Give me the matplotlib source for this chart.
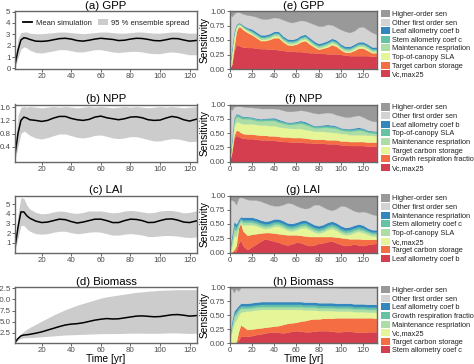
import numpy as np
import matplotlib
matplotlib.use("Agg")
import matplotlib.pyplot as plt
from matplotlib.patches import Patch
from matplotlib.lines import Line2D

# ---------------- data ----------------
years = [0, 2, 4, 6, 8, 10, 12, 16, 20, 24, 28, 32, 36, 40, 44, 48, 52, 56, 60, 64,
         68, 72, 76, 80, 84, 88, 92, 96, 100, 104, 108, 112, 116, 120, 124, 128, 132]

# ensemble output (left column): mean, lower and upper bound of 95% spread
gpp_mean = [0, 0.3, 1.6, 2.5, 2.7, 2.65, 2.55, 2.4, 2.38, 2.42, 2.52, 2.62, 2.65, 2.58, 2.45, 2.4, 2.48, 2.58, 2.65, 2.6,
            2.55, 2.45, 2.48, 2.58, 2.65, 2.63, 2.55, 2.45, 2.43, 2.52, 2.63, 2.62, 2.5, 2.4, 2.45, 2.55, 2.58]
gpp_low = [0, 0.05, 0.9, 1.7, 1.9, 1.8, 1.6, 1.4, 1.35, 1.45, 1.55, 1.65, 1.65, 1.55, 1.45, 1.45, 1.55, 1.65, 1.65, 1.55,
           1.45, 1.4, 1.45, 1.5, 1.5, 1.45, 1.35, 1.3, 1.3, 1.4, 1.45, 1.4, 1.3, 1.2, 1.2, 1.25, 1.25]
gpp_high = [0, 0.8, 2.6, 3.15, 3.2, 3.2, 3.1, 3.05, 3.05, 3.1, 3.15, 3.2, 3.2, 3.15, 3.1, 3.05, 3.1, 3.15, 3.2, 3.2,
            3.15, 3.1, 3.1, 3.15, 3.2, 3.2, 3.15, 3.1, 3.1, 3.15, 3.2, 3.2, 3.15, 3.1, 3.1, 3.15, 3.15]

npp_mean = [0, 0.15, 0.8, 1.2, 1.3, 1.27, 1.22, 1.2, 1.17, 1.2, 1.27, 1.32, 1.32, 1.26, 1.22, 1.2, 1.23, 1.3, 1.33, 1.28,
            1.25, 1.22, 1.25, 1.3, 1.31, 1.28, 1.22, 1.2, 1.21, 1.27, 1.32, 1.29, 1.22, 1.18, 1.23, 1.27, 1.27]
npp_low = [0, 0.02, 0.4, 0.8, 0.88, 0.82, 0.75, 0.67, 0.64, 0.68, 0.74, 0.79, 0.79, 0.74, 0.69, 0.67, 0.7, 0.75, 0.76, 0.72,
           0.67, 0.65, 0.67, 0.71, 0.71, 0.67, 0.62, 0.58, 0.58, 0.62, 0.65, 0.64, 0.6, 0.56, 0.57, 0.6, 0.6]
npp_high = [0, 0.4, 1.35, 1.6, 1.62, 1.6, 1.62, 1.6, 1.58, 1.6, 1.62, 1.6, 1.62, 1.6, 1.58, 1.6, 1.62, 1.6, 1.62, 1.6,
            1.58, 1.6, 1.62, 1.6, 1.62, 1.6, 1.58, 1.6, 1.62, 1.6, 1.62, 1.6, 1.58, 1.6, 1.62, 1.6, 1.6]

lai_mean = [0.2, 0.5, 2.6, 4.2, 4.2, 3.8, 3.55, 3.25, 3.1, 3.15, 3.3, 3.45, 3.4, 3.2, 3.05, 3.15, 3.3, 3.45, 3.45, 3.3,
            3.1, 3.1, 3.3, 3.45, 3.42, 3.3, 3.1, 3.12, 3.3, 3.45, 3.48, 3.35, 3.15, 3.1, 3.25, 3.38, 3.38]
lai_low = [0.15, 0.3, 1.5, 2.8, 2.8, 2.45, 2.2, 1.95, 1.9, 1.95, 2.1, 2.2, 2.2, 2.05, 1.95, 2.0, 2.1, 2.15, 2.1, 1.95,
           1.8, 1.8, 1.9, 1.95, 1.9, 1.8, 1.65, 1.65, 1.72, 1.76, 1.75, 1.7, 1.6, 1.55, 1.6, 1.65, 1.65]
lai_high = [0.25, 1.0, 4.0, 5.7, 5.6, 4.9, 4.5, 4.15, 4.0, 4.05, 4.2, 4.3, 4.25, 4.1, 4.05, 4.15, 4.3, 4.3, 4.3, 4.2,
            4.1, 4.15, 4.3, 4.35, 4.3, 4.2, 4.1, 4.15, 4.3, 4.35, 4.35, 4.25, 4.1, 4.15, 4.3, 4.3, 4.3]

bio_mean = [0, 0.3, 1.2, 1.8, 2.0, 2.05, 2.15, 2.4, 2.7, 3.1, 3.5, 3.9, 4.25, 4.45, 4.55, 4.75, 5.05, 5.35, 5.55, 5.7,
            5.6, 5.65, 5.85, 6.05, 6.25, 6.3, 6.2, 6.1, 6.15, 6.35, 6.55, 6.6, 6.45, 6.25, 6.35, 6.55, 6.6]
bio_low = [0, 0.2, 0.9, 1.25, 1.35, 1.4, 1.42, 1.5, 1.6, 1.7, 1.8, 1.9, 2.0, 2.05, 2.1, 2.15, 2.2, 2.25, 2.3, 2.32,
           2.32, 2.33, 2.36, 2.4, 2.42, 2.4, 2.38, 2.38, 2.4, 2.45, 2.48, 2.45, 2.4, 2.35, 2.38, 2.43, 2.43]
bio_high = [0, 0.4, 1.5, 2.3, 2.8, 3.3, 3.7, 4.4, 5.1, 5.8, 6.5, 7.1, 7.7, 8.2, 8.7, 9.1, 9.5, 9.9, 10.3, 10.6,
            10.8, 11.0, 11.2, 11.4, 11.6, 11.7, 11.85, 11.95, 12.05, 12.1, 12.15, 12.2, 12.2, 12.2, 12.2, 12.2, 12.2]

# sensitivity indices (right column), bottom layer first; higher-order = 1 - sum of first-order
gpp_labels = ["Vc,max25", "Target carbon storage", "Top-of-canopy SLA", "Maintenance respriation",
              "Stem allometry coef c", "Leaf allometry coef b", "Other first order sen"]
gpp_s1 = [0, 0.08, 0.3, 0.42, 0.41, 0.39, 0.38, 0.37, 0.37, 0.36, 0.35, 0.35, 0.34, 0.34, 0.33, 0.32, 0.31, 0.31, 0.30, 0.30,
          0.29, 0.28, 0.28, 0.27, 0.27, 0.26, 0.26, 0.26, 0.25, 0.24, 0.23, 0.23, 0.23, 0.23, 0.23, 0.22, 0.22]
gpp_s2 = [0, 0, 0.08, 0.22, 0.32, 0.33, 0.3, 0.26, 0.22, 0.18, 0.14, 0.14, 0.17, 0.2, 0.21, 0.15, 0.11, 0.1, 0.13, 0.17,
          0.2, 0.15, 0.1, 0.07, 0.09, 0.12, 0.16, 0.13, 0.08, 0.05, 0.06, 0.09, 0.13, 0.13, 0.09, 0.06, 0.06]
gpp_s3 = [0.02, 0.15, 0.16, 0.07, 0.03, 0.03, 0.03, 0.03, 0.02, 0.02, 0.02, 0.02, 0.02, 0.03, 0.03, 0.02, 0.02, 0.02, 0.02, 0.03,
          0.03, 0.03, 0.02, 0.02, 0.02, 0.03, 0.03, 0.03, 0.02, 0.02, 0.02, 0.03, 0.03, 0.03, 0.03, 0.02, 0.02]
gpp_s4 = [0.02, 0.1, 0.08, 0.04, 0.02, 0.02, 0.02, 0.02, 0.03, 0.03, 0.03, 0.03, 0.03, 0.03, 0.03, 0.03, 0.03, 0.03, 0.03, 0.03,
          0.03, 0.03, 0.03, 0.03, 0.03, 0.03, 0.03, 0.03, 0.03, 0.03, 0.03, 0.03, 0.03, 0.03, 0.03, 0.03, 0.03]
gpp_s5 = [0, 0.02, 0.02, 0.01, 0.01, 0.01, 0.01, 0.015, 0.02, 0.02, 0.02, 0.02, 0.02, 0.02, 0.02, 0.02, 0.02, 0.02, 0.02, 0.02,
          0.02, 0.02, 0.02, 0.02, 0.02, 0.02, 0.02, 0.02, 0.02, 0.02, 0.02, 0.02, 0.02, 0.02, 0.02, 0.02, 0.02]
gpp_s6 = [0, 0.01, 0.01, 0.01, 0.01, 0.01, 0.015, 0.02, 0.03, 0.03, 0.03, 0.03, 0.03, 0.03, 0.03, 0.03, 0.03, 0.03, 0.03, 0.03,
          0.03, 0.03, 0.03, 0.03, 0.03, 0.03, 0.03, 0.03, 0.03, 0.03, 0.03, 0.03, 0.03, 0.03, 0.03, 0.03, 0.03]
gpp_other = [0.93, 0.54, 0.30, 0.21, 0.18, 0.18, 0.195, 0.215, 0.23, 0.26, 0.28, 0.27, 0.26, 0.24, 0.23, 0.28, 0.30, 0.29, 0.29, 0.26,
             0.23, 0.26, 0.29, 0.30, 0.28, 0.28, 0.23, 0.22, 0.25, 0.26, 0.24, 0.23, 0.25, 0.26, 0.25, 0.25, 0.22]

npp_labels = ["Vc,max25", "Growth respiration fraction", "Target carbon storage", "Maintenance respriation",
              "Top-of-canopy SLA", "Leaf allometry coef b", "Other first order sen"]
npp_s1 = [0, 0.15, 0.4, 0.46, 0.44, 0.42, 0.41, 0.40, 0.40, 0.39, 0.38, 0.38, 0.37, 0.37, 0.36, 0.35, 0.35, 0.34, 0.34, 0.34,
          0.33, 0.33, 0.32, 0.32, 0.32, 0.31, 0.31, 0.31, 0.29, 0.29, 0.28, 0.28, 0.28, 0.28, 0.27, 0.27, 0.27]
npp_s2 = [0, 0.02, 0.06, 0.09, 0.10, 0.09, 0.08, 0.08, 0.08, 0.08, 0.08, 0.08, 0.08, 0.08, 0.08, 0.08, 0.08, 0.08, 0.08, 0.08,
          0.08, 0.07, 0.07, 0.07, 0.07, 0.07, 0.07, 0.07, 0.07, 0.07, 0.07, 0.07, 0.07, 0.07, 0.07, 0.07, 0.07]
npp_s3 = [0, 0.1, 0.15, 0.15, 0.15, 0.16, 0.17, 0.18, 0.18, 0.18, 0.18, 0.18, 0.18, 0.18, 0.17, 0.17, 0.16, 0.16, 0.16, 0.16,
          0.15, 0.15, 0.14, 0.14, 0.14, 0.14, 0.13, 0.13, 0.13, 0.13, 0.12, 0.12, 0.12, 0.12, 0.12, 0.12, 0.11]
npp_s4 = [0, 0.08, 0.1, 0.09, 0.09, 0.09, 0.09, 0.09, 0.08, 0.07, 0.07, 0.08, 0.09, 0.09, 0.08, 0.07, 0.06, 0.07, 0.08, 0.09,
          0.09, 0.07, 0.06, 0.06, 0.07, 0.08, 0.08, 0.07, 0.06, 0.05, 0.06, 0.07, 0.08, 0.07, 0.05, 0.04, 0.04]
npp_s5 = [0, 0.04, 0.05, 0.04, 0.04, 0.04, 0.03, 0.03, 0.03, 0.03, 0.03, 0.03, 0.03, 0.03, 0.03, 0.03, 0.03, 0.03, 0.03, 0.03,
          0.03, 0.03, 0.03, 0.03, 0.03, 0.03, 0.03, 0.03, 0.03, 0.03, 0.03, 0.03, 0.03, 0.03, 0.03, 0.03, 0.03]
npp_s6 = [0, 0.01, 0.01, 0.01, 0.01, 0.01, 0.01, 0.01, 0.01, 0.01, 0.01, 0.01, 0.015, 0.02, 0.02, 0.015, 0.01, 0.01, 0.015, 0.02,
          0.02, 0.015, 0.01, 0.01, 0.015, 0.02, 0.02, 0.015, 0.01, 0.01, 0.015, 0.02, 0.02, 0.015, 0.01, 0.01, 0.01]
npp_other = [0.95, 0.50, 0.19, 0.13, 0.14, 0.16, 0.17, 0.16, 0.17, 0.18, 0.18, 0.17, 0.165, 0.16, 0.18, 0.185, 0.19, 0.19, 0.185, 0.18,
             0.19, 0.205, 0.22, 0.21, 0.205, 0.21, 0.21, 0.195, 0.21, 0.20, 0.205, 0.21, 0.21, 0.195, 0.19, 0.17, 0.17]

lai_labels = ["Leaf allometry coef b", "Target carbon storage", "Vc,max25", "Top-of-canopy SLA",
              "Stem allometry coef c", "Maintenance respriation", "Other first order sen"]
lai_s1 = [0, 0, 0.02, 0.03, 0.15, 0.22, 0.12, 0.05, 0.1, 0.15, 0.2, 0.24, 0.22, 0.2, 0.18, 0.15, 0.13, 0.15, 0.18, 0.17,
          0.14, 0.12, 0.13, 0.16, 0.17, 0.19, 0.2, 0.17, 0.14, 0.12, 0.13, 0.15, 0.13, 0.12, 0.14, 0.15, 0.16]
lai_s2 = [0, 0.01, 0.03, 0.09, 0.28, 0.30, 0.26, 0.25, 0.22, 0.18, 0.14, 0.11, 0.13, 0.14, 0.15, 0.17, 0.18, 0.16, 0.13, 0.13,
          0.15, 0.16, 0.15, 0.12, 0.11, 0.09, 0.08, 0.10, 0.12, 0.13, 0.11, 0.09, 0.11, 0.11, 0.09, 0.08, 0.07]
lai_s3 = [0.01, 0.09, 0.24, 0.17, 0.02, 0.01, 0.10, 0.19, 0.17, 0.14, 0.10, 0.07, 0.08, 0.12, 0.13, 0.11, 0.08, 0.07, 0.09, 0.13,
          0.15, 0.12, 0.08, 0.06, 0.08, 0.12, 0.14, 0.12, 0.08, 0.06, 0.08, 0.11, 0.13, 0.12, 0.09, 0.06, 0.06]
lai_s4 = [0.02, 0.1, 0.12, 0.1, 0.05, 0.04, 0.05, 0.04, 0.04, 0.04, 0.04, 0.04, 0.04, 0.04, 0.04, 0.04, 0.04, 0.04, 0.04, 0.04,
          0.04, 0.04, 0.04, 0.04, 0.04, 0.04, 0.04, 0.04, 0.04, 0.04, 0.04, 0.04, 0.04, 0.04, 0.04, 0.04, 0.04]
lai_s5 = [0.01, 0.06, 0.08, 0.06, 0.04, 0.03, 0.04, 0.04, 0.04, 0.04, 0.04, 0.04, 0.04, 0.04, 0.04, 0.04, 0.04, 0.04, 0.04, 0.04,
          0.04, 0.04, 0.04, 0.04, 0.04, 0.04, 0.04, 0.04, 0.04, 0.04, 0.04, 0.04, 0.04, 0.04, 0.03, 0.03, 0.03]
lai_s6 = [0.01, 0.04, 0.06, 0.05, 0.04, 0.03, 0.05, 0.05, 0.05, 0.05, 0.05, 0.05, 0.05, 0.05, 0.05, 0.05, 0.05, 0.05, 0.05, 0.05,
          0.05, 0.05, 0.05, 0.05, 0.05, 0.05, 0.05, 0.05, 0.05, 0.05, 0.05, 0.05, 0.05, 0.05, 0.04, 0.04, 0.04]
lai_other = [0.87, 0.62, 0.35, 0.34, 0.37, 0.34, 0.34, 0.31, 0.30, 0.32, 0.33, 0.32, 0.28, 0.23, 0.23, 0.28, 0.35, 0.35, 0.29, 0.23,
             0.20, 0.26, 0.35, 0.37, 0.31, 0.23, 0.19, 0.25, 0.35, 0.37, 0.32, 0.25, 0.21, 0.24, 0.27, 0.27, 0.25]

bio_labels = ["Stem allometry coef c", "Target carbon storage", "Vc,max25", "Maintenance respriation",
              "Growth respiration fraction", "Leaf allometry coef b", "Other first order sen"]
bio_s1 = [0, 0, 0, 0, 0.05, 0.12, 0.12, 0.12, 0.13, 0.15, 0.16, 0.18, 0.19, 0.2, 0.19, 0.18, 0.19, 0.21, 0.22, 0.21,
          0.2, 0.2, 0.21, 0.22, 0.22, 0.22, 0.21, 0.2, 0.2, 0.21, 0.21, 0.2, 0.19, 0.19, 0.2, 0.2, 0.2]
bio_s2 = [0, 0, 0, 0.02, 0.15, 0.20, 0.18, 0.12, 0.12, 0.11, 0.11, 0.10, 0.10, 0.10, 0.12, 0.15, 0.16, 0.15, 0.15, 0.18,
          0.20, 0.22, 0.22, 0.21, 0.22, 0.22, 0.23, 0.25, 0.25, 0.24, 0.24, 0.25, 0.26, 0.26, 0.25, 0.25, 0.24]
bio_s3 = [0.05, 0.2, 0.35, 0.40, 0.30, 0.23, 0.26, 0.33, 0.33, 0.33, 0.33, 0.32, 0.31, 0.30, 0.29, 0.27, 0.25, 0.24, 0.23, 0.21,
          0.19, 0.17, 0.16, 0.15, 0.14, 0.14, 0.14, 0.12, 0.12, 0.12, 0.12, 0.11, 0.11, 0.11, 0.10, 0.10, 0.11]
bio_s4 = [0.03, 0.1, 0.12, 0.1, 0.08, 0.07, 0.06, 0.05, 0.05, 0.05, 0.05, 0.05, 0.05, 0.05, 0.05, 0.05, 0.05, 0.05, 0.05, 0.05,
          0.05, 0.05, 0.05, 0.05, 0.05, 0.05, 0.05, 0.05, 0.05, 0.05, 0.05, 0.05, 0.05, 0.05, 0.05, 0.05, 0.05]
bio_s5 = [0.02, 0.05, 0.05, 0.05, 0.05, 0.04, 0.04, 0.04, 0.04, 0.04, 0.04, 0.04, 0.04, 0.04, 0.04, 0.04, 0.04, 0.04, 0.04, 0.04,
          0.04, 0.04, 0.04, 0.04, 0.04, 0.04, 0.04, 0.04, 0.04, 0.04, 0.04, 0.04, 0.04, 0.04, 0.04, 0.04, 0.04]
bio_s6 = [0.01, 0.04, 0.05, 0.05, 0.04, 0.05, 0.05, 0.05, 0.05, 0.05, 0.05, 0.05, 0.05, 0.05, 0.05, 0.05, 0.05, 0.05, 0.05, 0.05,
          0.05, 0.05, 0.05, 0.05, 0.05, 0.05, 0.05, 0.05, 0.05, 0.05, 0.05, 0.05, 0.05, 0.05, 0.05, 0.05, 0.05]
bio_other = [0.87, 0.58, 0.33, 0.35, 0.26, 0.28, 0.28, 0.28, 0.27, 0.26, 0.25, 0.25, 0.25, 0.25, 0.25, 0.25, 0.25, 0.25, 0.25, 0.25,
             0.26, 0.26, 0.26, 0.27, 0.27, 0.27, 0.27, 0.28, 0.27, 0.27, 0.27, 0.28, 0.28, 0.28, 0.29, 0.29, 0.29]

# ---------------- style ----------------
SPREAD = "#CCCCCC"
LAYER_COLORS = ["#D53E4F", "#F46D43", "#E6F598", "#ABDDA4", "#66C2A5", "#3288BD", "#D3D3D3", "#999999"]
FRAME = "#666666"
TICKC = "#4D4D4D"
TICK_FS = 5.7
LEG_FS = 5.3
TITLE_FS = 8.2
LAB_FS = 7.3

plt.rcParams["font.family"] = ["Liberation Sans", "DejaVu Sans"]
fig = plt.figure(figsize=(4.74, 3.64), dpi=100)
W, H = 474.0, 364.0

ROWS = [(11, 69), (104.5, 161.5), (195.5, 252.5), (287, 343)]


def axes_px(left, top, right, bottom):
    return fig.add_axes([left / W, 1 - bottom / H, (right - left) / W, (bottom - top) / H])


def style(ax):
    for s in ax.spines.values():
        s.set_color(FRAME)
        s.set_linewidth(1.0)
    ax.tick_params(direction="out", length=2.2, width=0.7, color=FRAME,
                   labelsize=TICK_FS, labelcolor=TICKC, pad=1.0)


left_specs = [
    ("(a) GPP", gpp_mean, gpp_low, gpp_high, (-0.05, 5.05), [0, 1, 2, 3, 4, 5], ["0", "1", "2", "3", "4", "5"]),
    ("(b) NPP", npp_mean, npp_low, npp_high, (-0.04, 1.68), [0.4, 0.8, 1.2, 1.6], ["0.4", "0.8", "1.2", "1.6"]),
    ("(c) LAI", lai_mean, lai_low, lai_high, (0.0, 5.9), [1, 2, 3, 4, 5], ["1", "2", "3", "4", "5"]),
    ("(d) Biomass", bio_mean, bio_low, bio_high, (0.2, 12.8), [2.5, 5.0, 7.5, 10.0, 12.5],
     ["2.5", "5.0", "7.5", "10.0", "12.5"]),
]

for i, (title, m, lo, hi, ylim, yt, ytl) in enumerate(left_specs):
    top, bot = ROWS[i]
    ax = axes_px(15, top, 197, bot)
    ax.fill_between(years, lo, hi, color=SPREAD, linewidth=0)
    ax.plot(years, m, color="black", lw=1.1)
    ax.set_xlim(2, 125)
    ax.set_ylim(*ylim)
    ax.set_xticks([20, 40, 60, 80, 100, 120])
    ax.set_yticks(yt)
    ax.set_yticklabels(ytl)
    ax.set_title(title, fontsize=TITLE_FS, pad=1.5)
    style(ax)
    if i == 0:
        h = [Line2D([], [], color="black", lw=1.3), Patch(facecolor=SPREAD, edgecolor="none")]
        ax.legend(h, ["Mean simulation", "95 % ensemble spread"], loc="center", bbox_to_anchor=(0.5, 0.8),
                  ncol=2, frameon=False, fontsize=5.5, handlelength=1.3, handleheight=1.0,
                  handletextpad=0.4, columnspacing=0.9, labelcolor="#222222")
    if i == 3:
        ax.set_xlabel("Time [yr]", fontsize=LAB_FS, labelpad=0)

right_specs = [
    ("(e) GPP", [gpp_s1, gpp_s2, gpp_s3, gpp_s4, gpp_s5, gpp_s6, gpp_other], gpp_labels),
    ("(f) NPP", [npp_s1, npp_s2, npp_s3, npp_s4, npp_s5, npp_s6, npp_other], npp_labels),
    ("(g) LAI", [lai_s1, lai_s2, lai_s3, lai_s4, lai_s5, lai_s6, lai_other], lai_labels),
    ("(h) Biomass", [bio_s1, bio_s2, bio_s3, bio_s4, bio_s5, bio_s6, bio_other], bio_labels),
]

for i, (title, layers, labels) in enumerate(right_specs):
    top, bot = ROWS[i]
    ax = axes_px(229.5, top, 377, bot)
    vals = [np.array(v, dtype=float) for v in layers]
    higher = np.clip(1.0 - np.sum(vals, axis=0), 0, None)
    vals.append(higher)
    base = np.zeros(len(years))
    for v, c in zip(vals, LAYER_COLORS):
        ax.fill_between(years, base, base + v, facecolor=c, edgecolor=c, linewidth=0.2)
        base = base + v
    ax.set_xlim(0, 132.5)
    ax.set_ylim(0, 1)
    ax.set_xticks([0, 20, 40, 60, 80, 100, 120])
    ax.set_yticks([0, 0.25, 0.5, 0.75, 1.0])
    ax.set_yticklabels(["0.00", "0.25", "0.50", "0.75", "1.00"])
    ax.set_title(title, fontsize=TITLE_FS, pad=1.5)
    ax.set_ylabel("Sensitivity", fontsize=LAB_FS, labelpad=0.5)
    style(ax)
    all_labels = labels + ["Higher-order sen"]
    handles = [Patch(facecolor=c, edgecolor="none") for c in LAYER_COLORS]
    ax.legend(handles[::-1], all_labels[::-1], loc="upper left", bbox_to_anchor=(1.01, 1.07),
              frameon=False, fontsize=LEG_FS, handlelength=1.1, handleheight=1.1,
              handletextpad=0.3, labelspacing=0.08, borderpad=0.1, borderaxespad=0.3,
              labelcolor="#222222")
    if i == 3:
        ax.set_xlabel("Time [yr]", fontsize=LAB_FS, labelpad=0)

fig.savefig("out.png", dpi=100)
